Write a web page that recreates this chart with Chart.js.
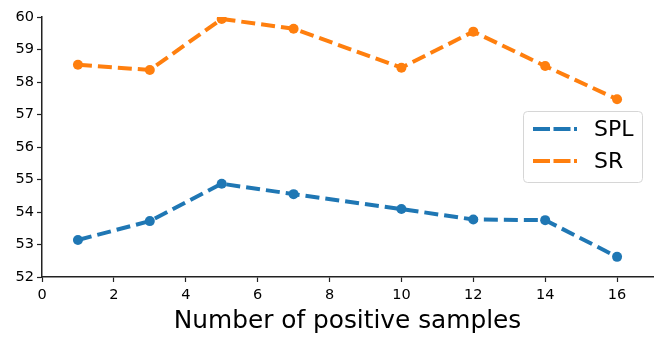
<!DOCTYPE html>
<html>
<head>
<meta charset="UTF-8">
<script src="https://cdn.jsdelivr.net/npm/chart.js"></script>
<style>
  body { margin: 0; background: #fff; }
  #wrap { width: 664px; height: 345px; }
</style>
</head>
<body>
<div id="wrap"><canvas id="c" width="664" height="345"></canvas></div>
<script>
const samples = [1, 3, 5, 7, 10, 12, 14, 16];
const splValues = [53.14, 53.72, 54.87, 54.55, 54.09, 53.77, 53.75, 52.62];
const srValues = [58.53, 58.37, 59.94, 59.64, 58.44, 59.55, 58.49, 57.47];
const xTicks = [0, 2, 4, 6, 8, 10, 12, 14, 16];
const yTicks = [52, 53, 54, 55, 56, 57, 58, 59, 60];

const FONT = "'DejaVu Sans', sans-serif";

// legend drawn inside the plot, like matplotlib's
const boxLegend = {
  id: "boxLegend",
  afterDraw(chart) {
    const ctx = chart.ctx;
    const x = 523, y = 111, w = 119, h = 71;
    ctx.save();
    ctx.fillStyle = "rgba(255,255,255,0.8)";
    ctx.strokeStyle = "#d6d6d6";
    ctx.lineWidth = 1;
    ctx.beginPath();
    ctx.roundRect(x + 0.5, y + 0.5, w, h, 4);
    ctx.fill();
    ctx.stroke();
    chart.data.datasets.forEach((ds, i) => {
      const ly = y + 18 + i * 32;
      ctx.strokeStyle = ds.borderColor;
      ctx.lineWidth = 4;
      ctx.setLineDash([17, 3.5]);
      ctx.beginPath();
      ctx.moveTo(x + 10, ly);
      ctx.lineTo(x + 54, ly);
      ctx.stroke();
      ctx.setLineDash([]);
      ctx.fillStyle = "#000";
      ctx.font = "22px " + FONT;
      ctx.textBaseline = "middle";
      ctx.fillText(ds.label, x + 71, ly + 1);
    });
    ctx.restore();
  }
};

new Chart(document.getElementById("c"), {
  type: "line",
  data: {
    datasets: [
      {
        label: "SPL",
        data: samples.map((s, i) => ({ x: s, y: splValues[i] })),
        borderColor: "#1f77b4",
        backgroundColor: "#1f77b4",
        borderWidth: 4,
        borderDash: [14, 6],
        pointRadius: 5,
        pointBorderWidth: 0,
        fill: false
      },
      {
        label: "SR",
        data: samples.map((s, i) => ({ x: s, y: srValues[i] })),
        borderColor: "#ff7f0e",
        backgroundColor: "#ff7f0e",
        borderWidth: 4,
        borderDash: [14, 6],
        pointRadius: 5,
        pointBorderWidth: 0,
        fill: false
      }
    ]
  },
  options: {
    responsive: false,
    animation: false,
    layout: { padding: { top: 17, right: 11, left: 0, bottom: 0 } },
    plugins: { legend: { display: false }, tooltip: { enabled: false } },
    scales: {
      x: {
        type: "linear",
        min: 0,
        max: 17,
        afterBuildTicks: (axis) => { axis.ticks = xTicks.map(v => ({ value: v })); },
        afterFit: (axis) => { axis.height = 68; },
        grid: { drawOnChartArea: false, drawTicks: true, tickLength: 5, tickColor: "#222", tickWidth: 1.2 },
        border: { display: true, color: "#222", width: 1.5 },
        ticks: { color: "#000", font: { family: FONT, size: 14.5 }, padding: 5, maxRotation: 0 },
        title: { display: true, text: "Number of positive samples", color: "#000", font: { family: FONT, size: 24.8 }, padding: { top: 0, bottom: 9 } }
      },
      y: {
        min: 52,
        max: 60,
        afterBuildTicks: (axis) => { axis.ticks = yTicks.map(v => ({ value: v })); },
        afterFit: (axis) => { axis.width = 42; },
        grid: { drawOnChartArea: false, drawTicks: true, tickLength: 5, tickColor: "#222", tickWidth: 1.2 },
        border: { display: true, color: "#222", width: 1.5 },
        ticks: { color: "#000", font: { family: FONT, size: 14.5 }, padding: 3 }
      }
    }
  },
  plugins: [boxLegend]
});
</script>
</body>
</html>
